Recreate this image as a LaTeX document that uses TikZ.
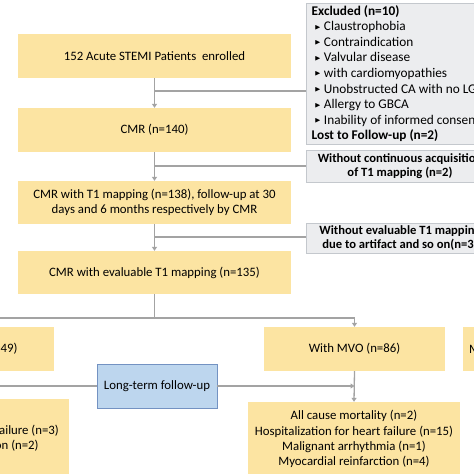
\documentclass[tikz,border=0pt]{standalone}
\usepackage{fontspec}
\usepackage{amssymb}
\setmainfont{Carlito}
\usetikzlibrary{arrows.meta}
\definecolor{yel}{HTML}{FCE4A2}
\definecolor{gryfill}{HTML}{ECEDEF}
\definecolor{grybd}{HTML}{C4C8CD}
\definecolor{blufill}{HTML}{BDD6EE}
\definecolor{blubd}{HTML}{7392C2}
\definecolor{conn}{HTML}{A3A3A3}
\newcommand\bul{\hspace*{3pt}\raisebox{0.25ex}{\scriptsize$\blacktriangleright$}\hspace{3pt}}
\tikzset{
  ybox/.style={fill=yel, draw=none, align=center, inner sep=0pt, font=\fontsize{12.8}{15.3}\selectfont},
  gbox/.style={fill=gryfill, draw=grybd, line width=0.6pt, align=center, inner sep=0pt, font=\fontsize{12.6}{14}\selectfont\bfseries},
  bbox/.style={fill=blufill, draw=blubd, line width=0.8pt, align=center, inner sep=0pt, font=\fontsize{12.8}{15}\selectfont},
  conline/.style={draw=conn, line width=1.3pt},
  arr/.style={conline, -{Triangle[length=4pt,width=5pt]}}
}
\begin{document}
\begin{tikzpicture}[x=1pt,y=-1pt]
\useasboundingbox (0,0) rectangle (474,474);
\clip (0,0) rectangle (474,474);
\fill[white] (0,0) rectangle (474,474);
% main column
\node[ybox, minimum width=273pt, minimum height=44pt] (n1) at (154.5,56) {152 Acute STEMI Patients\ \ enrolled};
\node[ybox, minimum width=273pt, minimum height=44pt] (n2) at (154.5,130) {CMR (n=140)};
\node[ybox, minimum width=273pt, minimum height=43pt] (n3) at (154.5,202.5) {CMR with T1 mapping (n=138), follow-up at 30\\days and 6 months respectively by CMR};
\node[ybox, minimum width=273pt, minimum height=43pt] (n4) at (154.5,272.5) {CMR with evaluable T1 mapping (n=135)};
% grey side boxes
\node[gbox, minimum width=260pt, minimum height=141pt] (ex) at (436,73.5) {};
\node[anchor=north west, align=left, inner sep=0pt, font=\fontsize{13.3}{15.6}\selectfont] (extext) at (311.5,5) {\textbf{Excluded (n=10)}\\
\bul Claustrophobia\\
\bul Contraindication\\
\bul Valvular disease\\
\bul with cardiomyopathies\\
\bul Unobstructed CA with no LGE\\
\bul Allergy to GBCA\\
\bul Inability of informed consent\\
\textbf{Lost to Follow-up (n=2)}};
\node[gbox, minimum width=188pt, minimum height=32pt] (g2) at (400,166) {Without continuous acquisition\\of T1 mapping (n=2)};
\node[gbox, minimum width=188pt, minimum height=30pt] (g3) at (400,238) {Without evaluable T1 mapping\\due to artifact and so on(n=3)};
% second level
\node[ybox, minimum width=182pt, minimum height=44pt] (lmvo) at (-37,349) {Without MVO (n=49)};
\node[ybox, minimum width=181pt, minimum height=44pt] (mvo) at (354.5,349) {With MVO (n=86)};
\node[ybox, minimum width=182pt, minimum height=44pt, anchor=west, text width=182pt, align=left] (rbox) at (463,349) {\hspace*{6pt}MACE};
\node[bbox, minimum width=120pt, minimum height=44pt] (lt) at (157,386) {Long-term follow-up};
\node[ybox, minimum width=212pt, minimum height=78pt] (bl) at (-37,438) {Hospitalization for heart failure (n=3)\\Myocardial reinfarction (n=2)};
\node[ybox, minimum width=212pt, minimum height=74pt] (br) at (354,439) {All cause mortality (n=2)\\Hospitalization for heart failure (n=15)\\Malignant arrhythmia (n=1)\\Myocardial reinfarction (n=4)};
% connectors
\coordinate (j1) at (154.5,91);
\coordinate (j2) at (154.5,166);
\coordinate (j3) at (154.5,237);
\coordinate (j4) at (154.5,318);
\draw[arr] (n1.south) -- (n2.north);
\draw[conline] (j1) -- (j1 -| ex.west);
\draw[arr] (n2.south) -- (n3.north);
\draw[conline] (j2) -- (g2.west);
\draw[arr] (n3.south) -- (n4.north);
\draw[conline] (j3) -- (j3 -| g3.west);
\draw[conline] (n4.south) -- (j4);
\draw[arr] (j4) -| (mvo.north);
\draw[arr] (j4) -| (lmvo.north);
\draw[arr] (mvo.south) -- (br.north);
\draw[arr] (lmvo.south) -- (bl.north);
\draw[arr] (lt.east) -- (lt.east -| mvo.south);
\draw[arr] (lt.west) -- (lt.west -| lmvo.south);
\end{tikzpicture}
\end{document}
